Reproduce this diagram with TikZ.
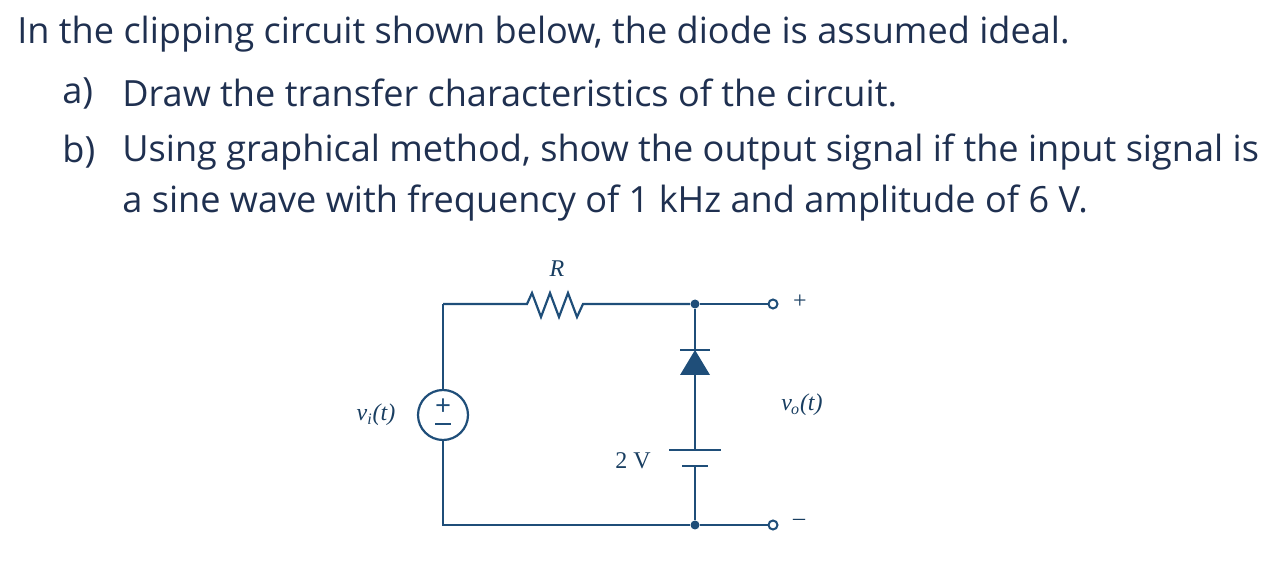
\documentclass[tikz,border=0pt]{standalone}
\usepackage{fontspec}
\setmainfont{Open Sans}
\newfontfamily\circfont{Liberation Serif}
\begin{document}
\begin{tikzpicture}[x=0.5pt,y=-0.5pt,
  txt/.style={anchor=west,inner sep=0pt,text=navy,font=\fontsize{18.05}{22}\selectfont},
  wire/.style={draw=cblue,line width=1.1pt},
  lbl/.style={inner sep=0pt,text=cblue!80!black,font=\circfont\fontsize{12}{14}\selectfont},
  dot/.style={circle,fill=cblue,inner sep=0pt,minimum size=4.5pt},
  term/.style={circle,draw=cblue,fill=white,line width=1pt,inner sep=0pt,minimum size=4.5pt}]
\definecolor{navy}{HTML}{1F3050}
\definecolor{cblue}{HTML}{1F4E79}
\useasboundingbox (0,0) rectangle (1280,587);
\node[txt] (t1) at (17,34) {In the clipping circuit shown below, the diode is assumed ideal.};
\node[txt] (t2a) at (62,93) {a)};
\node[txt] (t2) at (122,93) {Draw the transfer characteristics of the circuit.};
\node[txt] (t3a) at (62,152) {b)};
\node[txt] (t3) at (122,152) {Using graphical method, show the output signal if the input signal is};
\node[txt] (t4) at (122,203) {a sine wave with frequency of 1 kHz and amplitude of 6 V.};
% circuit
\coordinate (tl) at (443,304);
\coordinate (bl) at (443,525);
\node[dot] (nt) at (695,304) {};
\node[dot] (nb) at (695,525) {};
\node[term] (ot) at (773,304) {};
\node[term] (ob) at (773,525) {};
\node[circle,draw=cblue,line width=1.1pt,minimum size=25pt,inner sep=0pt] (src) at (443,415) {};
\node[inner sep=0pt,text=cblue,font=\fontsize{14}{14}\selectfont] (pl) at (443,407) {+};
\draw[wire] (435,424) -- (451,424);
\coordinate (r1) at (527,304);
\coordinate (r2) at (583,304);
\draw[wire] (tl) -- (r1) -- (532,293) -- (541,317) -- (550,293) -- (559,317) -- (568,293) -- (577,317) -- (r2) -- (nt);
\draw[wire] (src.north) -- (tl);
\draw[wire] (src.south) -- (bl) -- (nb);
\draw[wire] (nt) -- (ot);
\draw[wire] (nb) -- (ob);
% diode
\coordinate (dk) at (695,350);
\coordinate (da) at (695,375);
\fill[cblue] (680,375) -- (710,375) -- (695,350) -- cycle;
\draw[wire] (680,350) -- (710,350);
\draw[wire] (nt) -- (dk);
% battery
\coordinate (bp) at (695,450);
\coordinate (bn) at (695,466);
\draw[wire] (da) -- (bp);
\draw[wire] (669,450) -- (721,450);
\draw[wire] (682,466) -- (708,466);
\draw[wire] (bn) -- (nb);
% labels
\node[lbl] (lr) at (557,269) {\itshape R};
\node[lbl] (lp) at (800,302) {+};
\node[lbl] (lm) at (799,522) {\textendash};
\node[lbl] (lvo) at (802,405) {\itshape v\textsubscript{\kern-0.5pt o}(t)};
\node[lbl] (lvi) at (376,415) {\itshape v\textsubscript{i}(t)};
\node[lbl] (lb) at (633,461) {2 V};
\end{tikzpicture}
\end{document}
